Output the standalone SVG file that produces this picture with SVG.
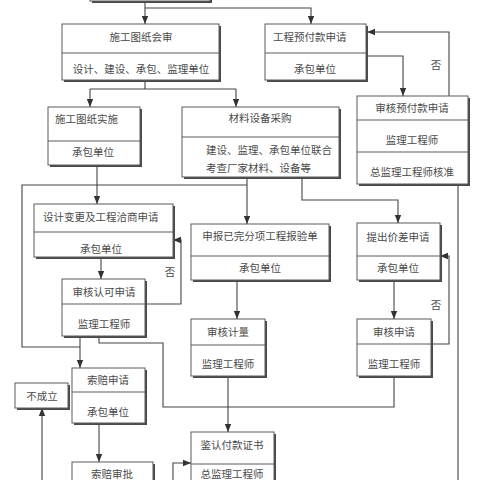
<svg xmlns="http://www.w3.org/2000/svg" width="480" height="480" viewBox="0 0 480 480">
<style>
.bg{fill:#ffffff}
.sh{fill:#4a4a4a}
.bx{fill:#ffffff;stroke:#5a5a5a;stroke-width:1}
.dv{stroke:#5a5a5a;stroke-width:1}
.t{font-family:"Noto Sans CJK SC","Noto Sans CJK JP",sans-serif;font-size:10.5px;fill:#4a4a4a;text-anchor:middle}
.tl{font-family:"Noto Sans CJK SC","Noto Sans CJK JP",sans-serif;font-size:10.5px;fill:#4a4a4a;text-anchor:start}
.c{fill:none;stroke:#444;stroke-width:1.1}
</style>
<defs>
<marker id="ah" markerWidth="8" markerHeight="8" viewBox="0 0 8 8" refX="8" refY="4" orient="auto" markerUnits="userSpaceOnUse">
<path d="M0,0.8 L8,4 L0,7.2 Z" fill="#333"/>
</marker>
</defs>
<rect class="bg" x="0" y="0" width="480" height="480"/>

<g id="connectors">
<path class="c" d="M145,0 V24" marker-end="url(#ah)"/>
<path class="c" d="M145,8 H311 V24" marker-end="url(#ah)"/>
<path class="c" d="M145,80 V89 M90,89 H236"/>
<path class="c" d="M90,89 V107" marker-end="url(#ah)"/>
<path class="c" d="M236,89 V107" marker-end="url(#ah)"/>
<path class="c" d="M367,56 H403 V96" marker-end="url(#ah)"/>
<path class="c" d="M449,96 V32 H367" marker-end="url(#ah)"/>
<path class="c" d="M458,184 V480"/>
<path class="c" d="M97,165 V204" marker-end="url(#ah)"/>
<path class="c" d="M247,177 V224" marker-end="url(#ah)"/>
<path class="c" d="M247,185 H22 V347 H80"/>
<path class="c" d="M302,177 V200 H398 V223" marker-end="url(#ah)"/>
<path class="c" d="M101,257 V279" marker-end="url(#ah)"/>
<path class="c" d="M145,304 H181 V240 H173" marker-end="url(#ah)"/>
<path class="c" d="M80,336 V368" marker-end="url(#ah)"/>
<path class="c" d="M99,336 V343 H163 V407 H394 V376"/>
<path class="c" d="M237,280 V319" marker-end="url(#ah)"/>
<path class="c" d="M228,376 V432" marker-end="url(#ah)"/>
<path class="c" d="M394,280 V319" marker-end="url(#ah)"/>
<path class="c" d="M431,344 H449 V256 H440" marker-end="url(#ah)"/>
<path class="c" d="M99,423 V462" marker-end="url(#ah)"/>
<path class="c" d="M42,480 V408" marker-end="url(#ah)"/>
<path class="c" d="M173,480 V463 H191" marker-end="url(#ah)"/>
<text class="t" x="436" y="69">否</text>
<text class="t" x="170" y="276">否</text>
<text class="t" x="436" y="309">否</text>
</g>

<g id="n_top">
<rect class="sh" x="92" y="-8" width="120" height="11"/>
<rect class="bx" x="90" y="-10" width="120" height="11"/>
</g>

<g id="n_huishen">
<rect class="sh" x="64" y="26" width="157" height="56"/>
<rect class="bx" x="62" y="24" width="157" height="56"/>
<line class="dv" x1="62" y1="53" x2="219" y2="53"/>
<text class="t" x="141" y="41">施工图纸会审</text>
<text class="t" x="141" y="73">设计、建设、承包、监理单位</text>
</g>

<g id="n_yufu">
<rect class="sh" x="267" y="26" width="101" height="56"/>
<rect class="bx" x="265" y="24" width="101" height="56"/>
<line class="dv" x1="265" y1="53" x2="366" y2="53"/>
<text class="tl" x="273" y="41">工程预付款申请</text>
<text class="t" x="315" y="73">承包单位</text>
</g>

<g id="n_shenheyufu">
<rect class="sh" x="359" y="98" width="111" height="88"/>
<rect class="bx" x="357" y="96" width="111" height="88"/>
<line class="dv" x1="357" y1="120" x2="468" y2="120"/>
<line class="dv" x1="357" y1="152" x2="468" y2="152"/>
<text class="t" x="412" y="112">审核预付款申请</text>
<text class="t" x="412" y="144">监理工程师</text>
<text class="t" x="412" y="176">总监理工程师核准</text>
</g>

<g id="n_shishi">
<rect class="sh" x="50" y="109" width="92" height="58"/>
<rect class="bx" x="48" y="107" width="92" height="58"/>
<line class="dv" x1="48" y1="141" x2="140" y2="141"/>
<text class="tl" x="55" y="123">施工图纸实施</text>
<text class="t" x="93" y="156">承包单位</text>
</g>

<g id="n_caigou">
<rect class="sh" x="184" y="109" width="157" height="70"/>
<rect class="bx" x="182" y="107" width="157" height="70"/>
<line class="dv" x1="182" y1="137" x2="339" y2="137"/>
<text class="t" x="260" y="122">材料设备采购</text>
<text class="tl" x="206" y="154">建设、监理、承包单位联合</text>
<text class="tl" x="206" y="172">考查厂家材料、设备等</text>
</g>

<g id="n_biangeng">
<rect class="sh" x="36" y="206" width="139" height="53"/>
<rect class="bx" x="34" y="204" width="139" height="53"/>
<line class="dv" x1="34" y1="232" x2="173" y2="232"/>
<text class="tl" x="43" y="221">设计变更及工程洽商申请</text>
<text class="t" x="101" y="253">承包单位</text>
</g>

<g id="n_baoyan">
<rect class="sh" x="193" y="226" width="138" height="56"/>
<rect class="bx" x="191" y="224" width="138" height="56"/>
<line class="dv" x1="191" y1="256" x2="329" y2="256"/>
<text class="t" x="260" y="240">申报已完分项工程报验单</text>
<text class="t" x="260" y="272">承包单位</text>
</g>

<g id="n_jiacha">
<rect class="sh" x="359" y="225" width="83" height="57"/>
<rect class="bx" x="357" y="223" width="83" height="57"/>
<line class="dv" x1="357" y1="256" x2="440" y2="256"/>
<text class="t" x="398" y="241">提出价差申请</text>
<text class="t" x="398" y="272">承包单位</text>
</g>

<g id="n_renke">
<rect class="sh" x="64" y="281" width="83" height="57"/>
<rect class="bx" x="62" y="279" width="83" height="57"/>
<line class="dv" x1="62" y1="304" x2="145" y2="304"/>
<text class="t" x="104" y="296">审核认可申请</text>
<text class="t" x="104" y="328">监理工程师</text>
</g>

<g id="n_jiliang">
<rect class="sh" x="193" y="321" width="74" height="57"/>
<rect class="bx" x="191" y="319" width="74" height="57"/>
<line class="dv" x1="191" y1="345" x2="265" y2="345"/>
<text class="t" x="228" y="336">审核计量</text>
<text class="t" x="228" y="368">监理工程师</text>
</g>

<g id="n_shenhe">
<rect class="sh" x="359" y="321" width="74" height="57"/>
<rect class="bx" x="357" y="319" width="74" height="57"/>
<line class="dv" x1="357" y1="344" x2="431" y2="344"/>
<text class="t" x="394" y="336">审核申请</text>
<text class="t" x="394" y="368">监理工程师</text>
</g>

<g id="n_suopei">
<rect class="sh" x="74" y="370" width="73" height="55"/>
<rect class="bx" x="72" y="368" width="73" height="55"/>
<line class="dv" x1="72" y1="392" x2="145" y2="392"/>
<text class="t" x="108" y="384">索赔申请</text>
<text class="t" x="108" y="416">承包单位</text>
</g>

<g id="n_buchengli">
<rect class="sh" x="17" y="385" width="53" height="25"/>
<rect class="bx" x="15" y="383" width="53" height="25"/>
<text class="t" x="42" y="400">不成立</text>
</g>

<g id="n_shenpi">
<rect class="sh" x="74" y="464" width="81" height="30"/>
<rect class="bx" x="72" y="462" width="81" height="30"/>
<text class="t" x="112" y="478">索赔审批</text>
</g>

<g id="n_zhengshu">
<rect class="sh" x="193" y="434" width="83" height="60"/>
<rect class="bx" x="191" y="432" width="83" height="60"/>
<line class="dv" x1="191" y1="464" x2="274" y2="464"/>
<text class="t" x="232" y="449">鉴认付款证书</text>
<text class="t" x="232" y="478">总监理工程师</text>
</g>
</svg>
